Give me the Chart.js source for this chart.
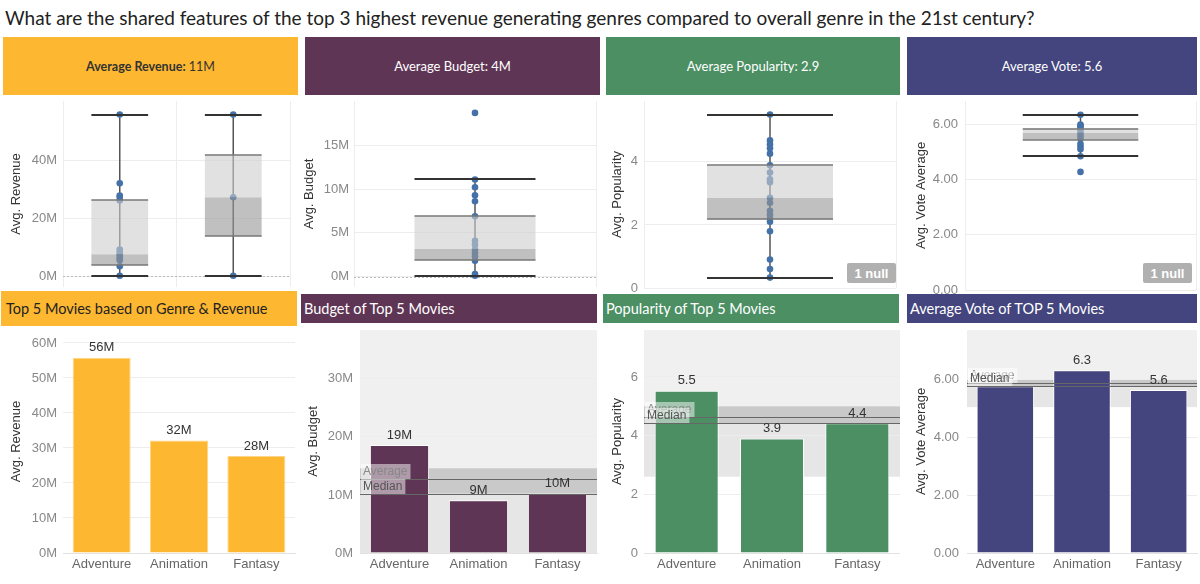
<!DOCTYPE html>
<html>
<head>
<meta charset="utf-8">
<script src="https://cdn.jsdelivr.net/npm/chart.js@4.4.0/dist/chart.umd.min.js"></script>
<style>
  body { margin: 0; width: 1200px; height: 584px; background: #fff; position: relative; overflow: hidden; font-family: 'Liberation Sans', Arial, sans-serif; }
  #title { position: absolute; left: 5px; top: 6px; font-family: Lato, sans-serif; font-size: 19px; color: #222; white-space: nowrap; }
  canvas { position: absolute; }
  .hdr { position: absolute; box-sizing: border-box; display: flex; align-items: center; white-space: nowrap; }
  .top-hdr { top: 37px; height: 58px; justify-content: center; font-family: Lato, sans-serif; font-size: 13px; color: #fff; }
  .bot-hdr { top: 294px; height: 29px; padding-left: 3px; font-family: Lato, sans-serif; font-size: 14.5px; color: #fff; }
  .null-tag { position: absolute; top: 263px; width: 49px; height: 20px; background: #b0b0b0; color: #fff; font-weight: bold; font-size: 13px; border-radius: 2px; display: flex; align-items: center; justify-content: center; }
</style>
</head>
<body>
<div id="title">What are the shared features of the top 3 highest revenue generating genres compared to overall genre in the 21st century?</div>

<canvas id="boxRevenue" width="298" height="197" style="left:0;top:97px"></canvas>
<canvas id="boxBudget" width="300" height="197" style="left:300px;top:97px"></canvas>
<canvas id="boxPopularity" width="300" height="197" style="left:600px;top:97px"></canvas>
<canvas id="boxVote" width="300" height="197" style="left:900px;top:97px"></canvas>

<canvas id="barRevenue" width="298" height="258" style="left:0;top:326px"></canvas>
<canvas id="barBudget" width="300" height="258" style="left:300px;top:326px"></canvas>
<canvas id="barPopularity" width="300" height="258" style="left:600px;top:326px"></canvas>
<canvas id="barVote" width="300" height="258" style="left:900px;top:326px"></canvas>

<div class="hdr top-hdr" style="left:3px;width:295px;background:#fdb730;color:#333;font-size:12.5px"><b>Average Revenue:</b>&nbsp;11M</div>
<div class="hdr top-hdr" style="left:305px;width:295px;background:#5f3555">Average Budget: 4M</div>
<div class="hdr top-hdr" style="left:606px;width:294px;background:#4b8f63">Average Popularity: 2.9</div>
<div class="hdr top-hdr" style="left:907px;width:290px;background:#44457e">Average Vote: 5.6</div>

<div class="hdr bot-hdr" style="left:1px;top:291px;height:35px;width:296px;background:#fdb730;color:#222;padding-left:5px">Top 5 Movies based on Genre &amp; Revenue</div>
<div class="hdr bot-hdr" style="left:301px;width:296px;background:#5f3555">Budget of Top 5 Movies</div>
<div class="hdr bot-hdr" style="left:603px;width:296px;background:#4b8f63">Popularity of Top 5 Movies</div>
<div class="hdr bot-hdr" style="left:907px;width:290px;background:#44457e">Average Vote of TOP 5 Movies</div>

<div class="null-tag" style="left:847px">1 null</div>
<div class="null-tag" style="left:1143px">1 null</div>

<script>
Chart.defaults.font.family = "'Liberation Sans', Arial, sans-serif";
Chart.defaults.animation = false;
Chart.defaults.plugins.legend.display = false;
Chart.defaults.plugins.tooltip.enabled = false;

// top row box plots: [low whisker, q1, median, q3, high whisker]
const revenueGroups = ['Top 3 genres', 'Overall'];
const revenueBox = [[0.1, 3.8, 7.6, 26.4, 56], [0.1, 13.9, 27.3, 42, 56]];
const revenuePoints = [[56, 32.2, 27.9, 27.4, 26.2, 9.2, 8.4, 7.6, 6.8, 6.0, 5.5, 3.4, 0.1], [56, 27.3, 0.1]];
const revenueTicks = [0, 20, 40];

const budgetGroups = ['Overall'];
const budgetBox = [[0.1, 1.9, 3.15, 6.9, 11.1]];
const budgetPoints = [[18.7, 11.1, 10.2, 9.3, 8.6, 6.9, 4.1, 3.65, 3.1, 2.7, 2.3, 1.8, 0.3, 0.1]];
const budgetTicks = [0, 5, 10, 15];

const popularityGroups = ['Overall'];
const popularityBox = [[0.33, 2.18, 2.86, 3.89, 5.5]];
const popularityPoints = [[5.5, 4.68, 4.56, 4.43, 4.26, 3.89, 3.66, 3.45, 3.35, 2.86, 2.7, 2.45, 2.33, 2.2, 2.1, 1.8, 0.9, 0.6, 0.33]];
const popularityTicks = [0, 2, 4];

const voteGroups = ['Overall'];
const voteBox = [[4.85, 5.45, 5.7, 5.85, 6.35]];
const votePoints = [[6.35, 6.0, 5.95, 5.9, 5.8, 5.7, 5.6, 5.5, 5.3, 5.2, 5.1, 4.85, 4.28]];
const voteTicks = [0, 2, 4, 6];

// bottom row bars
const genres = ['Adventure', 'Animation', 'Fantasy'];
const revenueTop = [55.8, 32.1, 27.7];
const budgetTop = [18.6, 9.1, 10.2];
const popularityTop = [5.53, 3.9, 4.42];
const voteTop = [5.75, 6.3, 5.62];
const revenueBarTicks = [0, 10, 20, 30, 40, 50, 60];
const budgetBarTicks = [0, 10, 20, 30];
const popularityBarTicks = [0, 2, 4, 6];
const voteBarTicks = [0, 2, 4, 6];

// reference bands [band low, median, band high] and lines [average, median]
const budgetBand = [0, 10.2, 14.6];
const budgetLines = [12.7, 10.2];
const popularityBand = [2.6, 4.42, 5.0];
const popularityLines = [4.62, 4.42];
const voteBand = [5.03, 5.72, 6.0];
const voteLines = [5.87, 5.75];
const refNames = ['Average', 'Median'];

function yAxis(o) {
    return {
        min: o.min, max: o.max,
        afterFit: (s) => { s.width = o.width; s.paddingTop = 0; s.paddingBottom = 0; },
        afterBuildTicks: (s) => { s.ticks = o.ticks.map(v => ({ value: v })); },
        ticks: { color: '#888', font: { size: 13 }, padding: o.pad, callback: o.fmt },
        grid: { color: '#ededed', drawTicks: false },
        border: { display: false },
        title: { display: true, text: o.title, color: '#333', font: { size: 13 }, padding: { top: o.tpad, bottom: 0 } }
    };
}

function boxPlugin(box, zeroLine) {
    return {
        id: 'boxWhiskers',
        beforeDatasetsDraw(chart) {
            const { ctx, chartArea: a, scales: { x, y } } = chart;
            ctx.save();
            if (zeroLine) {
                const zy = Math.round(y.getPixelForValue(0)) + 0.5;
                ctx.strokeStyle = '#bbb';
                ctx.lineWidth = 1;
                ctx.setLineDash([2, 2]);
                ctx.beginPath(); ctx.moveTo(a.left, zy); ctx.lineTo(a.right, zy); ctx.stroke();
                ctx.setLineDash([]);
            }
            ctx.strokeStyle = '#555';
            ctx.lineWidth = 1.5;
            box.forEach((b, i) => {
                const cx = x.getPixelForValue(i);
                ctx.beginPath();
                ctx.moveTo(cx, y.getPixelForValue(b[0]));
                ctx.lineTo(cx, y.getPixelForValue(b[4]));
                ctx.stroke();
            });
            ctx.restore();
        },
        afterDatasetsDraw(chart) {
            const { ctx, scales: { x, y } } = chart;
            const bars = chart.getDatasetMeta(0).data;
            ctx.save();
            box.forEach((b, i) => {
                const cx = x.getPixelForValue(i);
                const hw = bars[i].width / 2;
                [[b[0], '#333', 2], [b[4], '#333', 2], [b[1], '#777', 1.5], [b[3], '#777', 1.5]].forEach(([v, c, w]) => {
                    const py = Math.round(y.getPixelForValue(v));
                    ctx.strokeStyle = c;
                    ctx.lineWidth = w;
                    ctx.beginPath(); ctx.moveTo(cx - hw, py); ctx.lineTo(cx + hw, py); ctx.stroke();
                });
            });
            ctx.restore();
        }
    };
}

function boxChart(id, groups, box, points, o) {
    const pts = [];
    points.forEach((arr, i) => arr.forEach(v => pts.push({ x: groups[i], y: v })));
    new Chart(document.getElementById(id), {
        type: 'bar',
        data: {
            labels: groups,
            datasets: [
                { data: box.map(b => [b[2], b[3]]), backgroundColor: 'rgba(205,205,205,0.6)', grouped: false, categoryPercentage: 1, barPercentage: 0.5, order: 1 },
                { data: box.map(b => [b[1], b[2]]), backgroundColor: 'rgba(150,150,150,0.6)', grouped: false, categoryPercentage: 1, barPercentage: 0.5, order: 1 },
                { type: 'line', data: pts, showLine: false, pointRadius: 3.3, pointBackgroundColor: '#4472a8', pointBorderWidth: 0, order: 2 }
            ]
        },
        options: {
            responsive: false,
            layout: { padding: o.padding },
            scales: {
                x: {
                    offset: true,
                    afterFit: (s) => { s.height = 0; s.paddingLeft = 0; s.paddingRight = 0; },
                    ticks: { display: false },
                    grid: { color: '#ededed', drawTicks: false, offset: true },
                    border: { display: false }
                },
                y: yAxis(o.y)
            }
        },
        plugins: [boxPlugin(box, o.zero)]
    });
}

// value labels above bars, skipped where a reference-line label sits
function valueLabels(fmt) {
    return {
        id: 'valueLabels',
        afterDatasetsDraw(chart) {
            const { ctx } = chart;
            const values = chart.data.datasets[0].data;
            const boxes = chart.$refBoxes || [];
            ctx.save();
            ctx.font = "13px 'Liberation Sans', Arial, sans-serif";
            ctx.fillStyle = '#333';
            ctx.textAlign = 'center';
            ctx.textBaseline = 'middle';
            chart.getDatasetMeta(0).data.forEach((bar, i) => {
                const txt = fmt(values[i]);
                const w = ctx.measureText(txt).width;
                const lx = bar.x - w / 2, ly = bar.y - 17;
                const hit = boxes.some(b => lx < b.x + b.w && lx + w > b.x && ly < b.y + b.h && ly + 14 > b.y);
                if (!hit) ctx.fillText(txt, bar.x, bar.y - 10);
            });
            ctx.restore();
        }
    };
}

function refPlugin(band, lines) {
    return {
        id: 'refBand',
        beforeDraw(chart) {
            const { ctx, chartArea: a, scales: { y } } = chart;
            const py = v => y.getPixelForValue(v);
            ctx.save();
            ctx.fillStyle = '#f0f0f0';
            ctx.fillRect(a.left, a.top, a.width, py(band[2]) - a.top);
            ctx.fillStyle = '#c9c9c9';
            ctx.fillRect(a.left, py(band[2]), a.width, py(band[1]) - py(band[2]));
            ctx.fillStyle = '#e6e6e6';
            ctx.fillRect(a.left, py(band[1]), a.width, Math.min(py(band[0]), a.bottom) - py(band[1]));
            ctx.restore();
        },
        afterDatasetsDraw(chart) {
            const { ctx, chartArea: a, scales: { y } } = chart;
            chart.$refBoxes = [];
            ctx.save();
            ctx.font = "12px 'Liberation Sans', Arial, sans-serif";
            ctx.textBaseline = 'bottom';
            lines.forEach((v) => {
                const ly = Math.round(y.getPixelForValue(v)) + 0.5;
                ctx.strokeStyle = '#666';
                ctx.lineWidth = 1;
                ctx.beginPath(); ctx.moveTo(a.left, ly); ctx.lineTo(a.right, ly); ctx.stroke();
            });
            lines.forEach((v, i) => {
                const ly = Math.round(y.getPixelForValue(v));
                const w = ctx.measureText(refNames[i]).width + 5;
                chart.$refBoxes.push({ x: a.left + 1, y: ly - 15, w: w, h: 15 });
                ctx.fillStyle = 'rgba(255,255,255,0.5)';
                ctx.fillRect(a.left + 1, ly - 15, w, 15);
                ctx.fillStyle = i === 0 ? '#888' : '#555';
                ctx.fillText(refNames[i], a.left + 3, ly - 1);
            });
            ctx.restore();
        }
    };
}

function barChart(id, values, o) {
    const plugins = [valueLabels(o.label)];
    if (o.band) plugins.unshift(refPlugin(o.band, o.lines));
    new Chart(document.getElementById(id), {
        type: 'bar',
        data: {
            labels: genres,
            datasets: [{ data: values, backgroundColor: o.color, borderColor: o.border, borderWidth: 1, categoryPercentage: 1, barPercentage: 0.75 }]
        },
        options: {
            responsive: false,
            layout: { padding: o.padding },
            scales: {
                x: {
                    afterFit: (s) => { s.height = 31; s.paddingLeft = 0; s.paddingRight = 0; },
                    ticks: { color: '#666', font: { size: 13 }, padding: 4 },
                    grid: { display: false, drawTicks: false },
                    border: { color: '#e2e2e2' }
                },
                y: yAxis(o.y)
            }
        },
        plugins: plugins
    });
}

const fmtM = (v) => v + 'M';

document.addEventListener('DOMContentLoaded', () => {
    boxChart('boxRevenue', revenueGroups, revenueBox, revenuePoints, {
        padding: { top: 3, right: 8, bottom: 7 }, zero: true,
        y: { min: -3.8, max: 60.7, width: 63, pad: 6, tpad: 9, ticks: revenueTicks, fmt: fmtM, title: 'Avg. Revenue' }
    });
    boxChart('boxBudget', budgetGroups, budgetBox, budgetPoints, {
        padding: { top: 3, right: 3, bottom: 7 }, zero: true,
        y: { min: -1.19, max: 20.06, width: 54, pad: 5, tpad: 2, ticks: budgetTicks, fmt: fmtM, title: 'Avg. Budget' }
    });
    boxChart('boxPopularity', popularityGroups, popularityBox, popularityPoints, {
        padding: { top: 3, right: 3, bottom: 6 }, zero: false,
        y: { min: 0, max: 5.93, width: 44, pad: 6, tpad: 10, ticks: popularityTicks, fmt: (v) => v, title: 'Avg. Popularity' }
    });
    boxChart('boxVote', voteGroups, voteBox, votePoints, {
        padding: { top: 3, right: 3, bottom: 4 }, zero: false,
        y: { min: 0, max: 6.85, width: 65, pad: 7, tpad: 14, ticks: voteTicks, fmt: (v) => v.toFixed(2), title: 'Avg. Vote Average' }
    });

    barChart('barRevenue', revenueTop, {
        color: '#fdb730', border: 'rgba(255,210,120,0.9)', padding: { top: 4, right: 3, bottom: 0 },
        label: (v) => Math.round(v) + 'M',
        y: { min: 0, max: 63.7, width: 63, pad: 6, tpad: 9, ticks: revenueBarTicks, fmt: fmtM, title: 'Avg. Revenue' }
    });
    barChart('barBudget', budgetTop, {
        color: '#5f3555', border: '#ffffff', padding: { top: 4, right: 3, bottom: 0 },
        label: (v) => Math.round(v) + 'M', band: budgetBand, lines: budgetLines,
        y: { min: 0, max: 38.4, width: 60, pad: 7, tpad: 6, ticks: budgetBarTicks, fmt: fmtM, title: 'Avg. Budget' }
    });
    barChart('barPopularity', popularityTop, {
        color: '#4b8f63', border: '#ffffff', padding: { top: 4, right: 0, bottom: 0 },
        label: (v) => v.toFixed(1), band: popularityBand, lines: popularityLines,
        y: { min: 0, max: 7.6, width: 44, pad: 6, tpad: 10, ticks: popularityBarTicks, fmt: (v) => v, title: 'Avg. Popularity' }
    });
    barChart('barVote', voteTop, {
        color: '#44457e', border: '#ffffff', padding: { top: 4, right: 3, bottom: 0 },
        label: (v) => v.toFixed(1), band: voteBand, lines: voteLines,
        y: { min: 0, max: 7.69, width: 67, pad: 8, tpad: 14, ticks: voteBarTicks, fmt: (v) => v.toFixed(2), title: 'Avg. Vote Average' }
    });
});
</script>
</body>
</html>
